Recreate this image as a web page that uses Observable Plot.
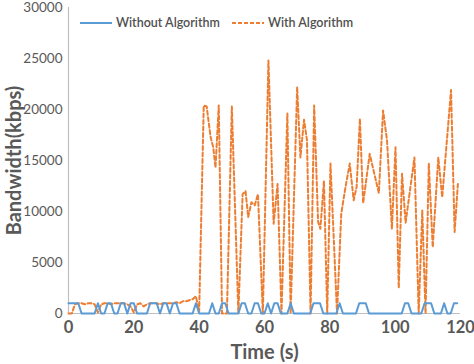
<!DOCTYPE html>
<html>
<head>
<meta charset="utf-8">
<script src="https://cdn.jsdelivr.net/npm/d3@7"></script>
<script src="https://cdn.jsdelivr.net/npm/@observablehq/plot@0.6"></script>
<style>
  body { margin: 0; background: #fff; }
  #wrap { position: relative; width: 474px; height: 364px; font-family: Lato, "Open Sans", sans-serif; }
  #legend { position: absolute; left: 80px; top: 15px; display: flex; align-items: center; font-size: 12.5px; font-weight: 600; color: #505050; white-space: nowrap; }
  #legend .item { display: flex; align-items: center; margin-right: 12px; }
  #legend svg { margin-right: 4px; }
</style>
</head>
<body>
<div id="wrap">
  <div id="legend"></div>
</div>
<script>
// Without Algorithm (blue): value at each second
const blueTime = d3.range(0, 120);
const blueValue = [
  1000,1000,1000,1000,0,0,0,0,0,1000,
  0,0,1000,1000,0,0,1000,1000,0,1000,
  1000,0,0,0,0,1000,1000,1000,0,1000,
  1000,0,1000,1000,0,0,0,0,0,1000,
  0,0,0,0,1000,0,0,1000,1000,0,
  0,0,0,1000,1000,0,0,1000,1000,0,
  0,1000,0,1000,1000,0,0,0,1000,0,
  0,0,0,0,0,1000,1000,1000,0,0,
  0,0,0,1000,0,0,0,0,0,1000,
  1000,1000,0,0,0,0,0,0,0,0,
  0,0,0,1000,1000,0,0,0,0,1000,
  1000,1000,0,0,0,1000,0,0,1000,1000
];

// With Algorithm (orange)
const orangeTime = [
  0,1,2,3,4,5,6,7,8,9,10,11,12,13,14,15,16,17,18,19,20,21,22,23,24,25,26,27,28,29,30,31,32,33,34,35,36,37,38,39,40,
  41.4,42.3,43.5,44.3,45,46,47,48.5,50,52,53.3,54.2,55,56,57,58,59.5,61.2,62.8,64,65.2,67,68,70,71,72.1,73,74.1,
  75.2,76.4,77.1,78.2,79.2,80.2,82.2,83.5,84.8,86.1,87.3,88.2,89.2,90.2,92.2,95,96.3,97.5,99,100.1,101.1,102.1,
  103.2,105.9,107.2,108.3,109.3,110.3,111.5,113.2,114.4,117.1,118.2,119.2
];
const orangeValue = [
  0,0,900,1000,1000,900,1000,1000,900,100,900,1000,1000,900,1000,1000,1000,1000,900,700,100,900,1000,700,900,1000,1000,1000,900,1000,1000,1000,1000,1100,1000,1200,1200,1300,1400,1700,200,
  20400,20300,17300,16300,14300,20400,0,0,20300,0,11700,12000,9450,10900,10600,11700,0,24800,8800,12700,0,19600,0,22200,15300,19000,17000,0,
  20400,9000,8300,13000,0,14700,0,9800,12400,14700,11100,12400,19100,10800,15650,11800,19900,17000,8300,16300,2500,13700,
  8900,15300,0,10100,0,14700,6500,15300,11400,21900,8000,12700
];

const seriesNames = ["Without Algorithm", "With Algorithm"];
const seriesColors = ["#5B9BD5", "#ED7D31"];
const xTicks = [0, 20, 40, 60, 80, 100, 120];
const yTicks = [0, 5000, 10000, 15000, 20000, 25000, 30000];
const xTitle = "Time (s)";
const yTitle = "Bandwidth(kbps)";

const blue = blueTime.map((t, i) => ({t, v: blueValue[i]}));
const orange = orangeTime.map((t, i) => ({t, v: orangeValue[i]}));

const chart = Plot.plot({
  width: 474,
  height: 364,
  marginLeft: 68,
  marginRight: 14,
  marginTop: 7,
  marginBottom: 51,
  style: {fontFamily: "Lato, 'Open Sans', sans-serif", color: "#595959", background: "#fff"},
  x: {domain: [0, 120], ticks: xTicks, label: null},
  y: {domain: [0, 30000], ticks: yTicks, label: null},
  marks: [
    Plot.axisY({ticks: yTicks, tickSize: 0, tickPadding: 6, tickFormat: d => String(d), fontSize: 13.5, label: yTitle, labelArrow: "none", labelAnchor: "center", labelOffset: 62}),
    Plot.axisX({ticks: xTicks, tickSize: 0, tickPadding: 8, fontSize: 16.5, fontWeight: "bold", label: xTitle, labelArrow: "none", labelAnchor: "center", labelOffset: 45}),
    Plot.ruleX([0], {stroke: "#bfbfbf", strokeWidth: 1.2}),
    Plot.ruleY([0], {stroke: "#bfbfbf", strokeWidth: 1.2}),
    Plot.line(orange, {x: "t", y: "v", stroke: seriesColors[1], strokeWidth: 2, strokeDasharray: "4,2.5"}),
    Plot.line(blue, {x: "t", y: "v", stroke: seriesColors[0], strokeWidth: 2})
  ]
});

// style axis titles, remove any arrows
const svgSel = d3.select(chart);
svgSel.selectAll('g[aria-label="y-axis label"], g[aria-label="x-axis label"]')
  .attr("font-size", 20).attr("font-weight", "bold").attr("fill", "#595959");
svgSel.select('g[aria-label="y-axis label"] text').text(yTitle);
svgSel.select('g[aria-label="x-axis label"] text').text(xTitle);
svgSel.selectAll('g[aria-label="y-axis tick label"], g[aria-label="x-axis tick label"]')
  .attr("fill", "#595959");

document.getElementById("wrap").appendChild(chart);
chart.style.position = "absolute";
chart.style.left = "0";
chart.style.top = "0";

const legend = document.getElementById("legend");
legend.style.zIndex = 2;
seriesNames.forEach((name, i) => {
  const item = document.createElement("div");
  item.className = "item";
  item.innerHTML = `<svg width="32" height="6"><line x1="0" y1="3" x2="32" y2="3" stroke="${seriesColors[i]}" stroke-width="2" ${i === 1 ? 'stroke-dasharray="4,2"' : ''}/></svg><span>${name}</span>`;
  legend.appendChild(item);
});
</script>
</body>
</html>
